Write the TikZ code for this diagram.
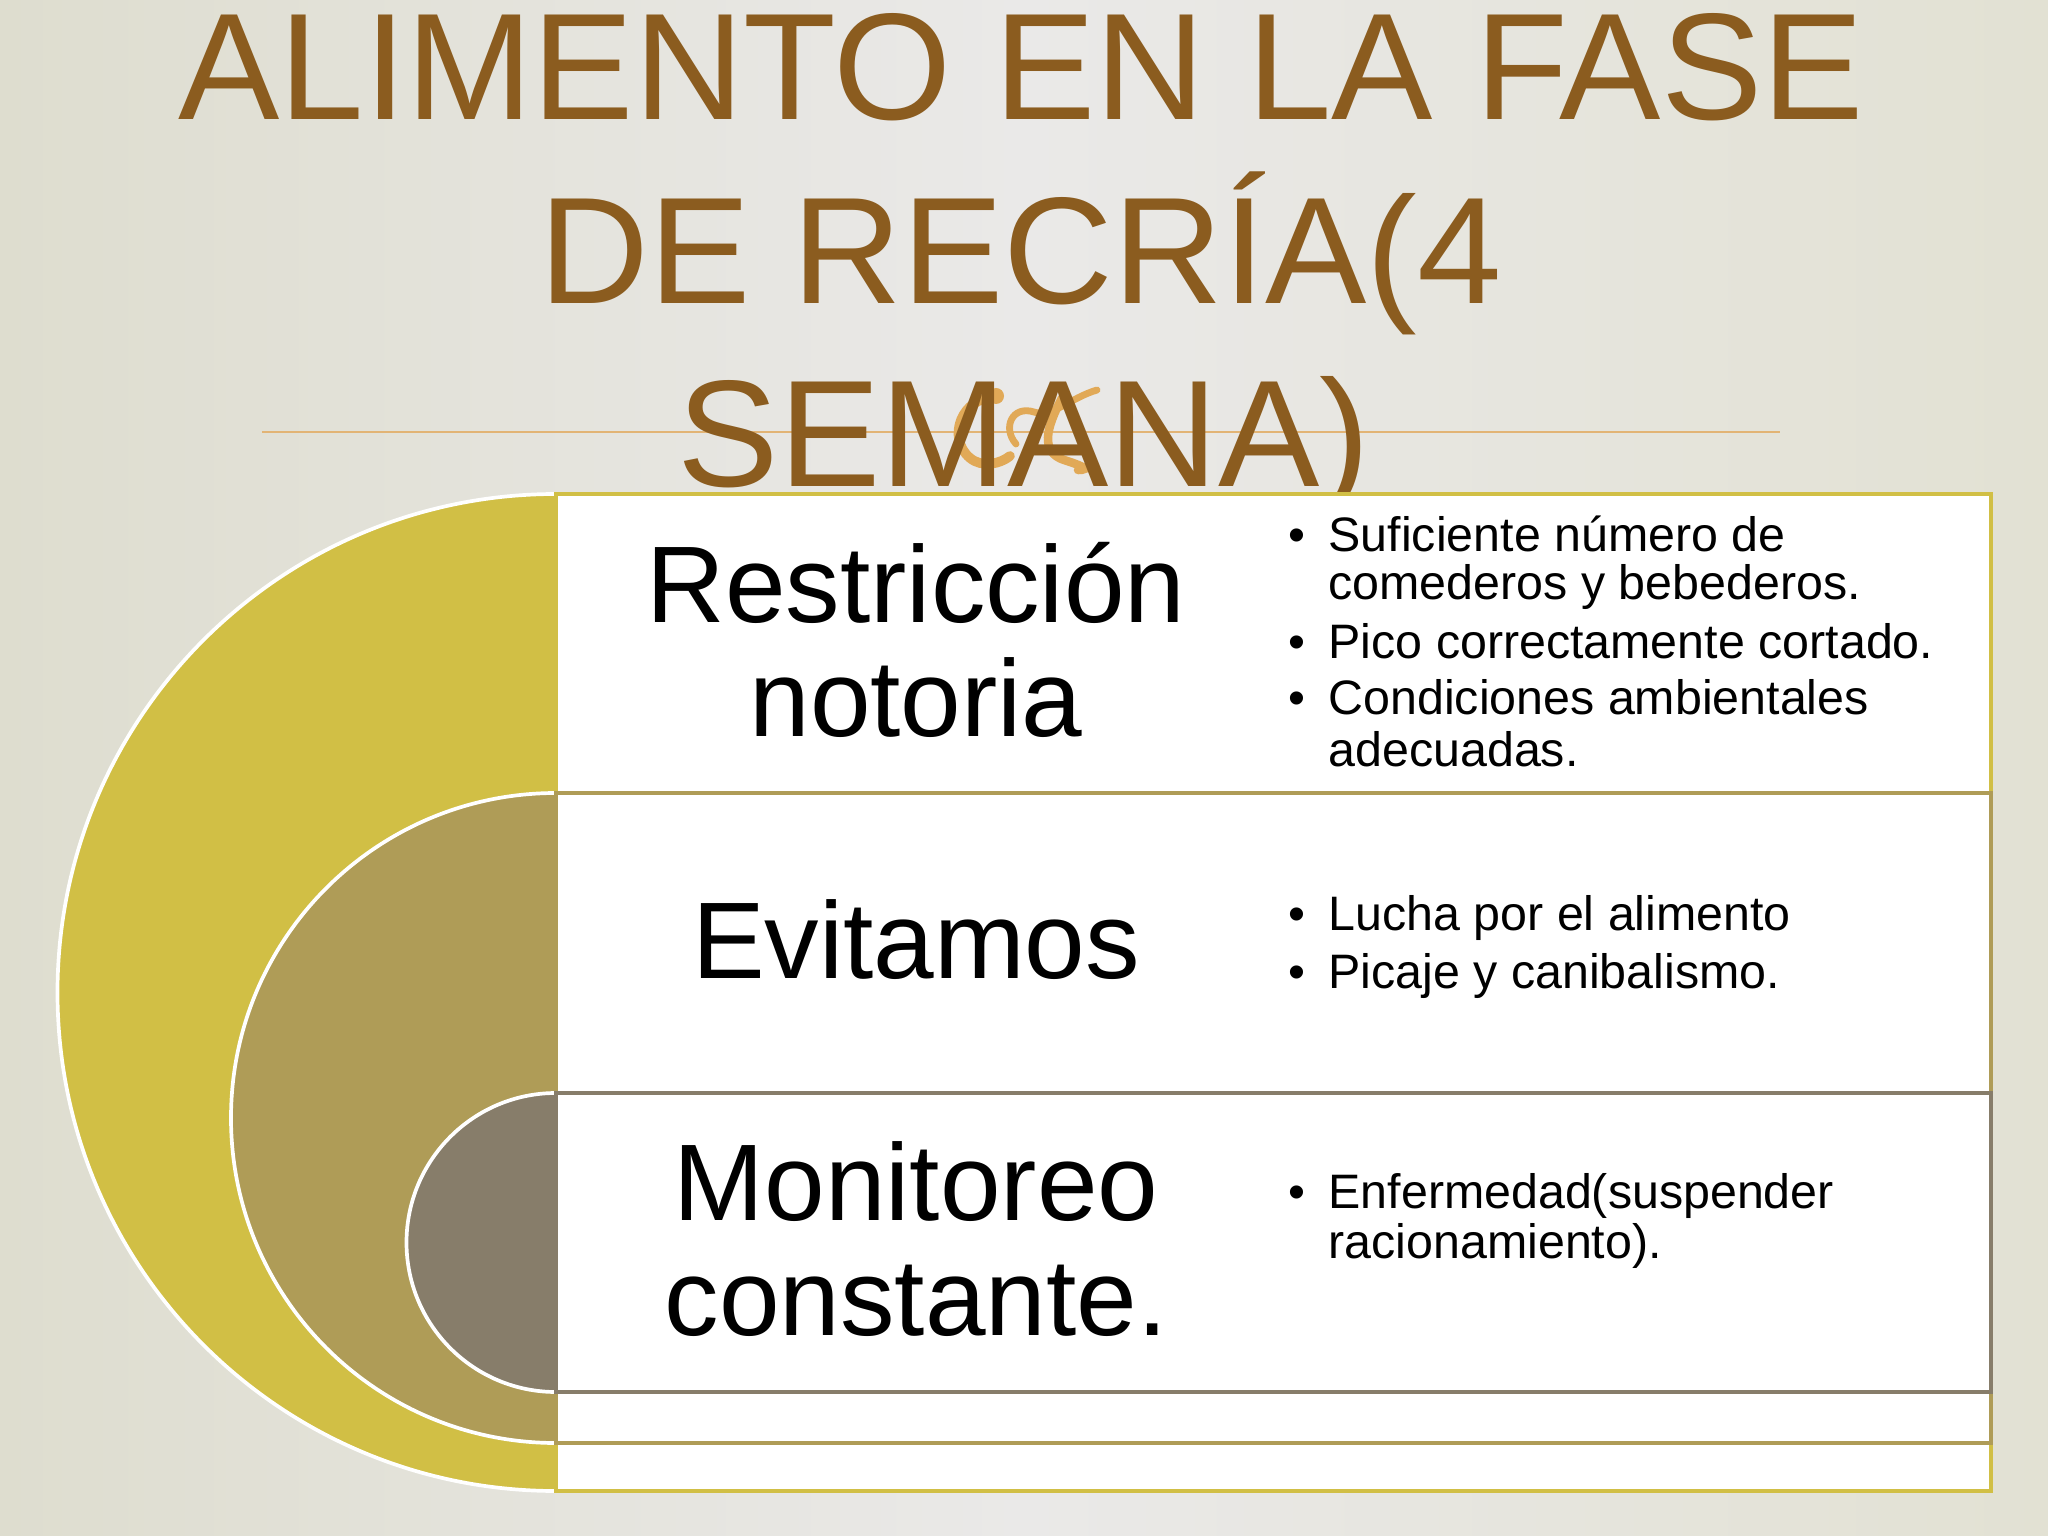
\documentclass[tikz,border=0pt]{standalone}
\usepackage{fontspec}
\setmainfont{Liberation Sans}
\definecolor{bgmid}{HTML}{EAE9E8}
\definecolor{bgedge}{HTML}{DEDDCF}
\definecolor{bgright}{HTML}{E2E1D3}
\definecolor{titlecol}{HTML}{8B5C1F}
\definecolor{ornacol}{HTML}{E1A957}
\definecolor{rulecol}{HTML}{E2B475}
\definecolor{goldc}{HTML}{D1BF45}
\definecolor{tanc}{HTML}{AF9C57}
\definecolor{grayc}{HTML}{877D6A}
\begin{document}
\begin{tikzpicture}[x=0.3515625pt,y=0.3515625pt,
  titletext/.style={font=\fontsize{53.4}{64.5}\selectfont, text=titlecol, anchor=base, inner sep=0pt},
  biglabel/.style={font=\fontsize{38.3}{40.4}\selectfont, anchor=base, inner sep=0pt},
  bullettext/.style={font=\fontsize{17}{20}\selectfont, anchor=base west, inner sep=0pt},
  bulletdot/.style={font=\fontsize{17}{20}\selectfont, anchor=base, inner sep=0pt},
  halfdisk/.style={draw=white, line width=1.3pt},
  rowbox/.style={fill=white, line width=1.3pt}
]
\useasboundingbox (0,0) rectangle (2048,-1536);
\shade[left color=bgedge, right color=bgright, middle color=bgmid] (0,0) rectangle (2048,-1536);

% rule and ornament
\draw[rulecol, line width=0.75pt] (262,-432) -- (1780,-432);
\begin{scope}[ornacol, line cap=round]
  \draw[line width=3.4pt] (995,-398) .. controls (962,-396) and (946,-438) .. (970,-458) .. controls (982,-468) and (1000,-464) .. (1010,-456);
  \fill (996,-396) circle[radius=8];
  \draw[line width=2.4pt] (1016,-444) .. controls (1002,-428) and (1012,-405) .. (1034,-412) .. controls (1052,-418) and (1070,-398) .. (1097,-390);
  \draw[line width=3pt] (1062,-398) .. controls (1046,-428) and (1040,-452) .. (1064,-460) .. controls (1080,-465) and (1092,-470) .. (1078,-470);
\end{scope}

% title
\node[titletext] (t1) at (1021,-120) {ALIMENTO EN LA FASE};
\node[titletext] (t2) at (1021,-304) {DE RECRÍA(4};
\node[titletext] (t3) at (1024,-487) {SEMANA)};

% half disks
\filldraw[halfdisk, fill=goldc] (556,-494) arc[start angle=90, end angle=270, radius=498.5] -- cycle;
\filldraw[halfdisk, fill=tanc] (556,-793) arc[start angle=90, end angle=270, radius=325] -- cycle;
\filldraw[halfdisk, fill=grayc] (556,-1093) arc[start angle=90, end angle=270, radius=149.5] -- cycle;

% boxes
\filldraw[rowbox, draw=goldc] (556,-494) rectangle (1991,-1491);
\filldraw[rowbox, draw=tanc] (556,-793) rectangle (1991,-1443);
\filldraw[rowbox, draw=grayc] (556,-1093) rectangle (1991,-1392);

% big labels
\node[biglabel] (l1a) at (916,-622) {Restricción};
\node[biglabel] (l1b) at (916,-736) {notoria};
\node[biglabel] (l2a) at (916,-978) {Evitamos};
\node[biglabel] (l3a) at (916,-1220) {Monitoreo};
\node[biglabel] (l3b) at (916,-1335) {constante.};

% bullets row 1
\node[bulletdot] (d1) at (1297,-552) {•};
\node[bullettext] (b1a) at (1328,-552) {Suficiente número de};
\node[bullettext] (b1b) at (1328,-600) {comederos y bebederos.};
\node[bulletdot] (d2) at (1297,-658) {•};
\node[bullettext] (b2a) at (1328,-658) {Pico correctamente cortado.};
\node[bulletdot] (d3) at (1297,-714) {•};
\node[bullettext] (b3a) at (1328,-714) {Condiciones ambientales};
\node[bullettext] (b3b) at (1328,-767) {adecuadas.};

% bullets row 2
\node[bulletdot] (d4) at (1297,-930) {•};
\node[bullettext] (b4a) at (1328,-930) {Lucha por el alimento};
\node[bulletdot] (d5) at (1297,-988) {•};
\node[bullettext] (b5a) at (1328,-988) {Picaje y canibalismo.};

% bullets row 3
\node[bulletdot] (d6) at (1297,-1208) {•};
\node[bullettext] (b6a) at (1328,-1208) {Enfermedad(suspender};
\node[bullettext] (b6b) at (1328,-1258) {racionamiento).};
\end{tikzpicture}
\end{document}
